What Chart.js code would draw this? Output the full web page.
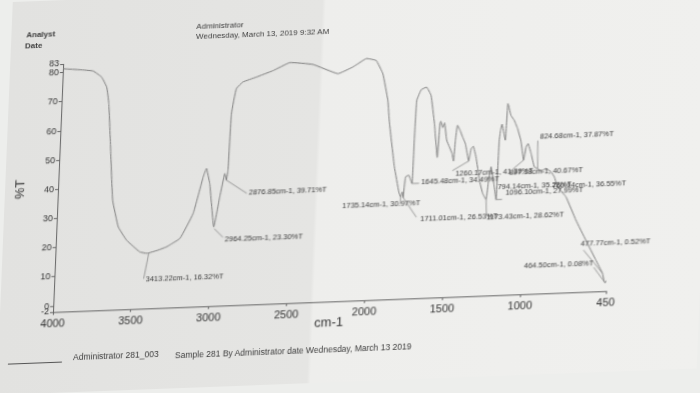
<!DOCTYPE html>
<html>
<head>
<meta charset="utf-8">
<script src="https://cdn.jsdelivr.net/npm/chart.js@4.4.1/dist/chart.umd.min.js"></script>
<style>
  html, body { margin: 0; padding: 0; background: #edeeec; overflow: hidden; }
  #sheet {
    position: relative; width: 700px; height: 393px;
    background: linear-gradient(90deg, #e2e2e0 0%, #e5e5e3 44.3%, #eeeeec 44.8%, #f0f0ee 100%);
    transform-origin: 53px 312px;
    transform: matrix(1, -0.038, -0.041, 1, 0, 0);
    font-family: "Liberation Sans", Arial, sans-serif; color: #3d3d3d;
  }
  #sheet canvas { position: absolute; left: 0; top: 0; }
  .txt { position: absolute; white-space: nowrap; font-size: 8px; line-height: 9px; }
  .bold { font-weight: bold; }
  .rule { position: absolute; left: 10px; top: 362px; width: 54px; height: 0; border-top: 1.2px solid #555; }
</style>
</head>
<body>
<div id="sheet">
  <canvas id="irChart" width="700" height="393"></canvas>
  <div class="txt bold" style="left:15px; top:29px;">Analyst</div>
  <div class="txt bold" style="left:14px; top:40px;">Date</div>
  <div class="txt" style="left:185px; top:27px;">Administrator</div>
  <div class="txt" style="left:185px; top:37px;">Wednesday, March 13, 2019 9:32 AM</div>
  <div class="rule"></div>
  <div class="txt" style="left:75px; top:354px; font-size:8.5px;">Administrator 281_003</div>
  <div class="txt" style="left:177px; top:356px; font-size:8.5px;">Sample 281 By Administrator date Wednesday, March 13 2019</div>
</div>
<script>
// spectrum (wavenumber in cm-1, transmittance in %T)
var wavenumber = [4000, 3987, 3891, 3805, 3749, 3714, 3696, 3672, 3646, 3603, 3546, 3458, 3410, 3340, 3287, 3204, 3125, 3070, 3051, 3026, 2989,
  2958, 2932, 2920, 2912, 2905, 2880, 2839, 2754, 2649, 2544, 2394, 2231, 2137, 2053, 1988, 1942, 1903, 1886, 1843, 1808, 1796, 1786, 1779,
  1769, 1748, 1725, 1722, 1717, 1691, 1656, 1626, 1597, 1570, 1562, 1557, 1543, 1532, 1514, 1495, 1476, 1465, 1458, 1449, 1431, 1412, 1393,
  1367, 1355, 1341, 1321, 1293, 1269, 1245, 1234, 1222, 1203, 1181, 1176, 1170, 1162, 1147, 1137, 1130, 1125, 1107, 1085, 1061, 1037, 1014,
  1002, 990, 968, 944, 922, 900, 868, 835, 812, 789, 732, 662, 593, 523, 477, 465, 458, 450];
var transmittance = [81.4, 81.3, 80.8, 80.2, 78.0, 74.5, 68.8, 52.8, 35.6, 26.4, 21.7, 17.5, 16.9, 17.9, 18.9, 21.6, 30.0, 42.4, 45.3, 40.0, 25.1,
  35.4, 43.3, 41.0, 44.4, 63.8, 72.3, 74.5, 76.0, 78.0, 80.5, 79.6, 76.1, 78.2, 80.9, 80.1, 75.5, 66.3, 58.3, 43.3, 34.7, 33.0, 34.7, 32.7,
  39.8, 40.3, 37.4, 52.2, 65.9, 69.5, 70.3, 67.4, 57.7, 46.0, 57.6, 58.4, 56.2, 57.8, 51.8, 49.5, 47.2, 44.6, 51.7, 56.8, 55.1, 52.7, 50.4,
  44.4, 48.6, 49.4, 45.7, 37.7, 33.1, 31.0, 37.5, 42.1, 37.5, 30.8, 51.2, 54.5, 56.6, 53.3, 51.1, 63.6, 63.0, 59.5, 57.8, 54.9, 50.8, 44.0,
  48.5, 49.6, 46.2, 41.5, 40.9, 40.0, 40.8, 39.6, 37.8, 34.4, 30.8, 22.7, 15.7, 8.7, 4.1, 1.5, 0.8, 1.6];

var xTicks = [4000, 3500, 3000, 2500, 2000, 1500, 1000, 450];
var yTicks = [83, 80, 70, 60, 50, 40, 30, 20, 10, 0, -2];

// peak picks printed on the spectrum
var peakLabels = ["3413.22cm-1, 16.32%T", "2964.25cm-1, 23.30%T", "2876.85cm-1, 39.71%T", "1735.14cm-1, 30.97%T",
  "1711.01cm-1, 26.53%T", "1645.48cm-1, 34.49%T", "1260.17cm-1, 41.39%T", "1173.43cm-1, 28.62%T", "1096.10cm-1, 27.99%T",
  "897.18cm-1, 40.67%T", "824.68cm-1, 37.87%T", "794.14cm-1, 35.22%T", "750.04cm-1, 36.55%T", "477.77cm-1, 0.52%T", "464.50cm-1, 0.08%T"];
var peakWn = [3400, 2985, 2920, 1796, 1779, 1725, 1367, 1245, 1181, 1014, 922, 789, 760, 477, 458];
var peakT = [16.8, 24.5, 41.0, 33.0, 32.7, 37.4, 44.4, 31.0, 30.8, 44.0, 40.9, 34.4, 33.0, 4.1, 0.8];

// leader end and text start, in pixels from the peak point
var leaderOffset = [[-4, 25], [9, 9], [21, 14], [0, 7], [14, 20], [7, 0], [-16, 9], [1, 16], [6, 0], [-11, 9], [-1, -28], [0, 0], [0, 0], [-20, -24], [-12, -16]];
var textOffset = [[-2, 26], [11, 11], [23, 13], [-58, 7], [18, 22], [9, -1], [-13, 12], [1, 18], [9, -6], [-14, 12], [1, -32], [-60, -2], [-10, -5], [-23, -30], [-82, -20]];

var fontFam = '"Liberation Sans", Arial, sans-serif';

var peakLabelPlugin = {
  id: 'peakLabels',
  afterDatasetsDraw: function (chart) {
    var ctx = chart.ctx, xs = chart.scales.x, ys = chart.scales.y;
    ctx.save();
    ctx.font = '7.5px ' + fontFam;
    ctx.fillStyle = '#3a3a3a';
    ctx.strokeStyle = '#858585';
    ctx.lineWidth = 0.8;
    ctx.textBaseline = 'middle';
    for (var i = 0; i < peakLabels.length; i++) {
      var px = xs.getPixelForValue(peakWn[i]);
      var py = ys.getPixelForValue(peakT[i]);
      var lo = leaderOffset[i], to = textOffset[i];
      if (lo[0] || lo[1]) {
        ctx.beginPath();
        ctx.moveTo(px, py);
        ctx.lineTo(px + lo[0], py + lo[1]);
        ctx.stroke();
      }
      ctx.fillText(peakLabels[i], px + to[0], py + to[1]);
    }
    ctx.restore();
  }
};

var points = wavenumber.map(function (w, i) { return { x: w, y: transmittance[i] }; });

new Chart(document.getElementById('irChart').getContext('2d'), {
  type: 'line',
  data: {
    datasets: [{
      data: points,
      borderColor: '#7c7c7c',
      borderWidth: 1,
      pointRadius: 0,
      tension: 0.1,
      fill: false
    }]
  },
  options: {
    responsive: false,
    animation: false,
    devicePixelRatio: 1,
    layout: { padding: { left: 0, right: 94, top: 64, bottom: 0 } },
    plugins: { legend: { display: false }, tooltip: { enabled: false } },
    scales: {
      x: {
        type: 'linear', reverse: true, min: 450, max: 4000,
        afterBuildTicks: function (s) { s.ticks = xTicks.map(function (v) { return { value: v }; }); },
        afterFit: function (s) { s.height = 81; },
        grid: { drawOnChartArea: false, tickLength: 3, color: '#666' },
        border: { color: '#666', width: 1 },
        ticks: {
          font: { family: fontFam, size: 11 }, color: '#333', padding: 2, maxRotation: 0, autoSkip: false,
          callback: function (v) { return String(v); }
        },
        title: { display: true, text: 'cm-1', font: { family: fontFam, size: 13 }, color: '#333', padding: { top: 0, bottom: 52 } }
      },
      y: {
        min: -2, max: 83,
        afterBuildTicks: function (s) { s.ticks = yTicks.map(function (v) { return { value: v }; }); },
        afterFit: function (s) { s.width = 53; },
        grid: { drawOnChartArea: false, tickLength: 3, color: '#666' },
        border: { color: '#666', width: 1 },
        ticks: { font: { family: fontFam, size: 9 }, color: '#333', padding: 1, autoSkip: false,
          callback: function (v) { return String(v); } },
        title: { display: true, text: '%T', font: { family: fontFam, size: 13 }, color: '#333', padding: { top: 8, bottom: 0 } }
      }
    }
  },
  plugins: [peakLabelPlugin]
});
</script>
</body>
</html>
